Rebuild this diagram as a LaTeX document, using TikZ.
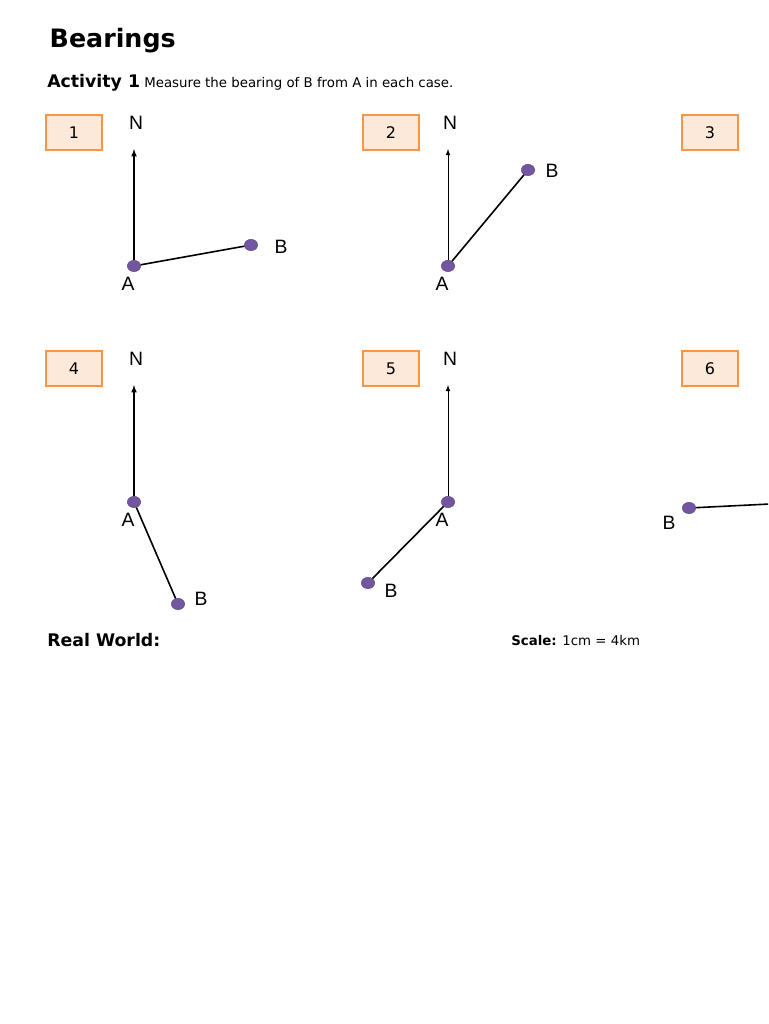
\documentclass[tikz,border=0pt]{standalone}
\usepackage{fontspec}
\usetikzlibrary{shapes.geometric}
\setmainfont{DejaVu Sans}
\newfontfamily\lbl{Liberation Sans}
\definecolor{boxfill}{HTML}{FDE9D9}
\definecolor{boxdraw}{HTML}{F79646}
\definecolor{dotc}{HTML}{7256A0}
\begin{document}
\begin{tikzpicture}[x=0.75pt,y=-0.75pt,
  numbox/.style={draw=boxdraw,fill=boxfill,line width=1.5pt,minimum width=42pt,minimum height=26pt,inner sep=0pt,font=\fontsize{12}{14}\selectfont},
  pt/.style={ellipse,fill=dotc,draw=dotc!70!black,line width=0.3pt,minimum width=10pt,minimum height=8.5pt,inner sep=0pt},
  lab/.style={font=\lbl\fontsize{14.5}{16}\selectfont},
  north/.style={-latex,line width=0.9pt},
  seg/.style={line width=1.2pt}]
\useasboundingbox (0,0) rectangle (768,1024);
\clip (0,0) rectangle (768,1024);
\node[anchor=west,font=\bfseries\fontsize{19}{22}\selectfont] (title) at (45,41) {Bearings};
\node[anchor=west,inner sep=0pt] (act) at (47,83) {{\bfseries\fontsize{13}{15}\selectfont Activity 1} \fontsize{10}{12}\selectfont Measure the bearing of B from A in each case.};
% boxes
\node[numbox] (b1) at (74,132.5) {1};
\node[numbox] (b2) at (391,132.5) {2};
\node[numbox] (b3) at (710,132.5) {3};
\node[numbox] (b4) at (74,368.5) {4};
\node[numbox] (b5) at (391,368.5) {5};
\node[numbox] (b6) at (710,368.5) {6};
% 1
\node[pt] (a1) at (134,266) {};
\coordinate (n1) at (134,149);
\node[lab] (nl1) at (136,123) {N};
\node[pt] (p1) at (251,245) {};
\node[lab] (al1) at (128,284) {A};
\node[lab] (bl1) at (281,247) {B};
\draw[north] (a1) -- (n1);
\draw[seg] (a1) -- (p1);
% 2
\node[pt] (a2) at (448,266) {};
\coordinate (n2) at (448,149);
\node[lab] (nl2) at (450,123) {N};
\node[pt] (p2) at (528,170) {};
\node[lab] (al2) at (442,284) {A};
\node[lab] (bl2) at (552,171) {B};
\draw[north,line width=0.6pt] (a2) -- (n2);
\draw[seg] (a2) -- (p2);
% 4
\node[pt] (a4) at (134,502) {};
\coordinate (n4) at (134,385);
\node[lab] (nl4) at (136,359) {N};
\node[pt] (p4) at (178,604) {};
\node[lab] (al4) at (128,520) {A};
\node[lab] (bl4) at (201,599) {B};
\draw[north] (a4) -- (n4);
\draw[seg] (a4) -- (p4);
% 5
\node[pt] (a5) at (448,502) {};
\coordinate (n5) at (448,385);
\node[lab] (nl5) at (450,359) {N};
\node[pt] (p5) at (368,583) {};
\node[lab] (al5) at (442,520) {A};
\node[lab] (bl5) at (391,591) {B};
\draw[north,line width=0.6pt] (a5) -- (n5);
\draw[seg] (a5) -- (p5);
% 6
\node[pt] (p6) at (689,508) {};
\coordinate (e6) at (770,504);
\node[lab] (bl6) at (669,523) {B};
\draw[seg] (p6) -- (e6);
% bottom
\node[anchor=west,inner sep=0pt,font=\bfseries\fontsize{13}{15}\selectfont] (rw) at (47,640) {Real World:};
\node[anchor=west,inner sep=0pt,font=\fontsize{10}{12}\selectfont] (sc) at (511,641) {\textbf{Scale:} 1cm = 4km};
\end{tikzpicture}
\end{document}
